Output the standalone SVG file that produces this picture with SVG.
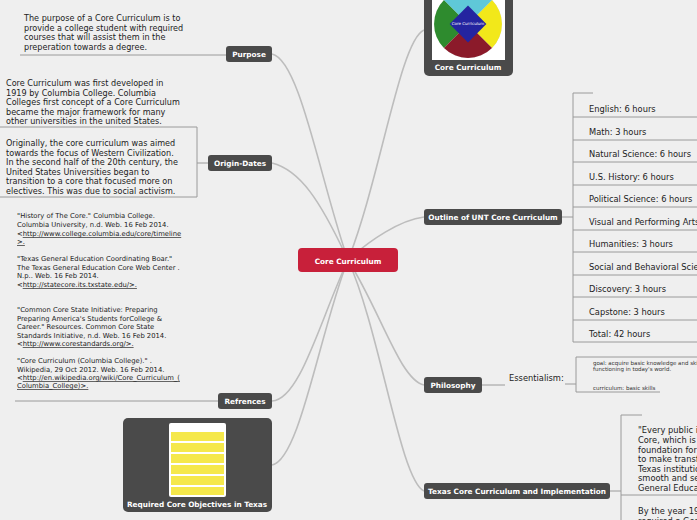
<svg xmlns="http://www.w3.org/2000/svg" width="697" height="520" viewBox="0 0 697 520">
<style>
text{font-family:"DejaVu Sans",Verdana,sans-serif}
.n{fill:#4a4a4a}
.nt{fill:#fff;font-size:7.3px;font-weight:bold;text-anchor:middle}
.c{fill:none;stroke:#bdbdbd;stroke-width:1.6}
.b{fill:none;stroke:#9a9a9a;stroke-width:1}
.t{fill:#222;font-size:8.1px}
.r{fill:#222;font-size:6.8px}
.i{fill:#222;font-size:8.3px}
.s{fill:#333;font-size:5.5px}
.u{text-decoration:underline}
</style>
<rect width="697" height="520" fill="#efefef"/>
<g id="connectors">
<path class="c" d="M348,260 C320,180 300,60 272,54"/>
<path class="c" d="M348,260 C320,200 300,170 272,163"/>
<path class="c" d="M348,260 C320,320 300,400 272,401"/>
<path class="c" d="M348,260 C320,330 300,460 272,465"/>
<path class="c" d="M348,260 C380,180 400,40 424,30"/>
<path class="c" d="M348,260 C370,240 400,220 424,217"/>
<path class="c" d="M348,260 C380,310 400,380 424,385"/>
<path class="c" d="M348,260 C380,330 400,480 424,491"/>
<path class="b" d="M20,55 H226"/>
<path class="b" d="M197,163 H208 M197,127 V197 M0,127 H197 M0,197 H197"/>
<path class="b" d="M15,401 H218"/>
<path class="b" d="M562,217 H573 M573,93 V342 M573,93 H593"/>
<path class="b" d="M573,117 H697 M573,140 H697 M573,162 H697 M573,185 H697 M573,207 H697 M573,230 H697 M573,252 H697 M573,275 H697 M573,297 H697 M573,320 H697 M573,342 H697"/>
<path class="b" d="M482,385 H505 M565,384 H576 M576,357 V392 M576,357 H697 M576,392 H660"/>
<path class="b" d="M610,491 H621 M621,415 V520 M621,415 H642 M621,495 H697"/>
</g>
<g id="center"><rect x="298" y="248" width="100" height="24" rx="4" fill="#c8203a"/><text class="nt" x="348" y="263.5" font-size="8.5">Core Curriculum</text></g>
<g id="purpose"><rect class="n" x="226" y="46" width="46" height="16" rx="3"/><text class="nt" x="249" y="57">Purpose</text>
<text class="t" x="24" y="21">The purpose of a Core Curriculum is to</text><text class="t" x="24" y="31">provide a college student with required</text><text class="t" x="24" y="40">courses that will assist them in the</text><text class="t" x="24" y="50">preperation towards a degree.</text></g>
<g id="origin"><rect class="n" x="208" y="155" width="64" height="16" rx="3"/><text class="nt" x="240" y="166">Origin-Dates</text>
<text class="t" x="6" y="86">Core Curriculum was first developed in</text><text class="t" x="6" y="96">1919 by Columbia College. Columbia</text><text class="t" x="6" y="105">Colleges first concept of a Core Curriculum</text><text class="t" x="6" y="115">became the major framework for many</text><text class="t" x="6" y="124">other universities in the united States.</text>
<text class="t" x="6" y="146">Originally, the core curriculum was aimed</text><text class="t" x="6" y="156">towards the focus of Western Civilization.</text><text class="t" x="6" y="165">In the second half of the 20th century, the</text><text class="t" x="6" y="175">United States Universities began to</text><text class="t" x="6" y="184">transition to a core that focused more on</text><text class="t" x="6" y="194">electives. This was due to social activism.</text></g>
<g id="refs"><rect class="n" x="218" y="393" width="54" height="16" rx="3"/><text class="nt" x="245" y="404">Refrences</text>
<text class="r" x="17" y="218">"History of The Core." Columbia College.</text><text class="r" x="17" y="227">Columbia University, n.d. Web. 16 Feb 2014.</text><text class="r" x="17" y="236">&lt;<tspan class="u">http://www.college.columbia.edu/core/timeline</tspan></text><text class="r u" x="17" y="244">&gt;.</text>
<text class="r" x="17" y="261">"Texas General Education Coordinating Boar."</text><text class="r" x="17" y="270">The Texas General Education Core Web Center .</text><text class="r" x="17" y="278">N.p.. Web. 16 Feb 2014.</text><text class="r" x="17" y="287">&lt;<tspan class="u">http://statecore.its.txstate.edu/&gt;.</tspan></text>
<text class="r" x="17" y="312">"Common Core State Initiative: Preparing</text><text class="r" x="17" y="321">Preparing America's Students forCollege &amp;</text><text class="r" x="17" y="329">Career." Resources. Common Core State</text><text class="r" x="17" y="338">Standards Initiative, n.d. Web. 16 Feb 2014.</text><text class="r" x="17" y="346">&lt;<tspan class="u">http://www.corestandards.org/&gt;.</tspan></text>
<text class="r" x="17" y="363">"Core Curriculum (Columbia College)." .</text><text class="r" x="17" y="372">Wikipedia, 29 Oct 2012. Web. 16 Feb 2014.</text><text class="r" x="17" y="380">&lt;<tspan class="u">http://en.wikipedia.org/wiki/Core_Curriculum_(</tspan></text><text class="r u" x="17" y="388">Columbia_College)&gt;.</text></g>
<g id="required"><rect class="n" x="123" y="418" width="149" height="94" rx="5"/><rect x="169" y="423" width="57" height="74" rx="2" fill="#fff"/>
<g fill="#f5e84a"><rect x="171" y="432" width="53" height="9"/><rect x="171" y="443" width="53" height="9"/><rect x="171" y="454" width="53" height="9"/><rect x="171" y="465" width="53" height="9"/><rect x="171" y="476" width="53" height="9"/><rect x="171" y="487" width="53" height="8"/></g>
<text class="nt" x="197" y="507">Required Core Objectives in Texas</text></g>
<g id="topimg"><rect class="n" x="424" y="-6" width="89" height="82" rx="5"/><rect x="432" y="-2" width="73" height="62" fill="#fff"/>
<circle cx="468" cy="24" r="34" fill="#ddd"/>
<path d="M468,24 L444,0 A34,34 0 0 0 444,48 Z" fill="#2e8b2e"/><path d="M468,24 L492,0 A34,34 0 0 1 492,48 Z" fill="#f2e81a"/><path d="M468,24 L444,48 A34,34 0 0 0 492,48 Z" fill="#8b1a2a"/><path d="M468,24 L444,0 A34,34 0 0 1 492,0 Z" fill="#5fc8d8"/>
<rect x="455" y="11" width="26" height="26" fill="#2424a0" transform="rotate(45 468 24)"/>
<text x="468" y="25" font-size="4" fill="#fff" text-anchor="middle">Core Curriculum</text>
<text class="nt" x="468" y="70">Core Curriculum</text></g>
<g id="outline"><rect class="n" x="424" y="209" width="138" height="16" rx="3"/><text class="nt" x="493" y="220">Outline of UNT Core Curriculum</text>
<text class="i" x="589" y="112">English: 6 hours</text><text class="i" x="589" y="135">Math: 3 hours</text><text class="i" x="589" y="157">Natural Science: 6 hours</text><text class="i" x="589" y="180">U.S. History: 6 hours</text><text class="i" x="589" y="202">Political Science: 6 hours</text><text class="i" x="589" y="225">Visual and Performing Arts</text><text class="i" x="589" y="247">Humanities: 3 hours</text><text class="i" x="589" y="270">Social and Behavioral Scien</text><text class="i" x="589" y="292">Discovery: 3 hours</text><text class="i" x="589" y="315">Capstone: 3 hours</text><text class="i" x="589" y="337">Total: 42 hours</text></g>
<g id="philosophy"><rect class="n" x="424" y="377" width="58" height="16" rx="3"/><text class="nt" x="453" y="388">Philosophy</text>
<text class="i" x="509" y="381">Essentialism:</text>
<text class="s" x="593" y="365">goal: acquire basic knowledge and skills</text><text class="s" x="593" y="371">functioning in today's world.</text><text class="s" x="593" y="390">curriculum: basic skills</text></g>
<g id="texas"><rect class="n" x="424" y="483" width="186" height="16" rx="3"/><text class="nt" x="517" y="494">Texas Core Curriculum and Implementation</text>
<text class="i" x="638" y="433">"Every public in</text><text class="i" x="638" y="443">Core, which is</text><text class="i" x="638" y="453">foundation for</text><text class="i" x="638" y="462">to make transf</text><text class="i" x="638" y="472">Texas institutio</text><text class="i" x="638" y="481">smooth and se</text><text class="i" x="638" y="491">General Educat</text>
<text class="i" x="638" y="514">By the year 19</text><text class="i" x="638" y="524">required a Gen</text></g>
</svg>
